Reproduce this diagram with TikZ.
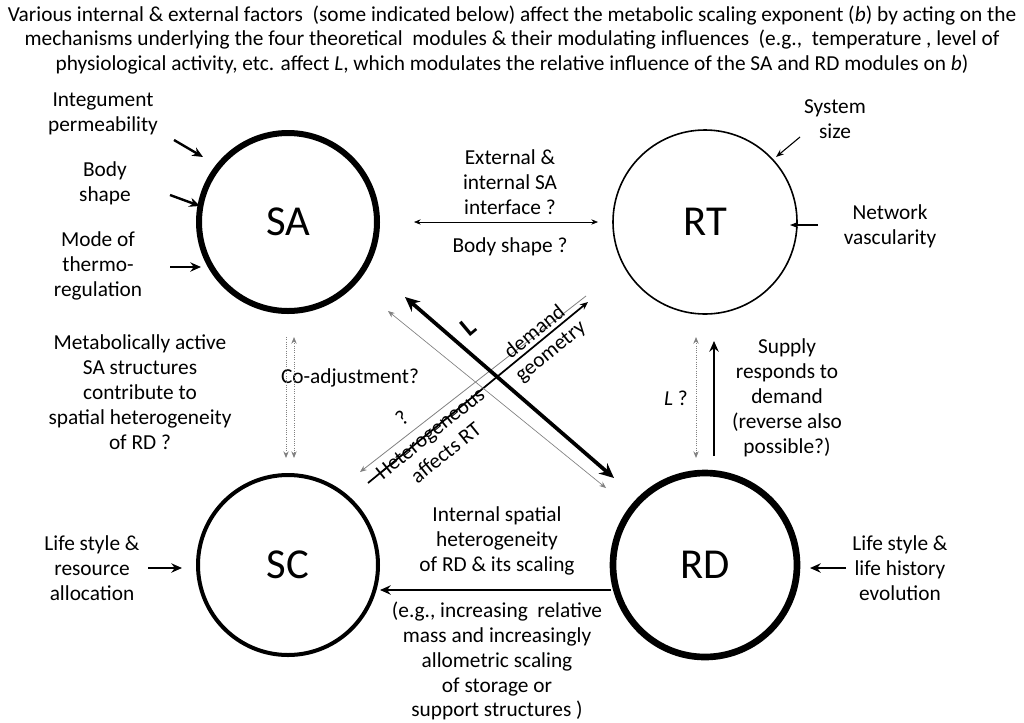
\documentclass[tikz,border=0pt]{standalone}
\usepackage{fontspec}
\setmainfont{Carlito}
\usetikzlibrary{arrows.meta}
\begin{document}
\begin{tikzpicture}[x=0.75pt,y=-0.75pt,
  t/.style={align=center,font=\fontsize{16}{18.7}\selectfont,inner sep=1pt},
  big/.style={font=\fontsize{32}{34}\selectfont},
  ex/.style={-{Stealth[length=8pt,width=7pt]},line width=1.8pt},
  thin/.style={{Stealth[length=5pt,width=4pt]}-{Stealth[length=5pt,width=4pt]},line width=0.5pt},
  dot/.style={densely dotted,gray,line width=0.7pt}]
\useasboundingbox (0,0) rectangle (1024,722);
\node[t] (title) at (512,40) {Various internal \& external factors\ \ (some indicated below) affect\ the metabolic scaling exponent (\textit{b}) by acting on the\\ mechanisms underlying the four theoretical\ \ modules \& their modulating influences\ \ (e.g.,\ \ temperature , level of\\ physiological activity, etc. affect \textit{L}, which modulates the relative influence of the SA and RD modules on \textit{b})};
\draw[line width=4.5pt] (288,222) circle (89);
\draw[line width=1.2pt] (705,222) circle (92);
\draw[line width=3pt] (288,565) circle (90);
\draw[line width=5pt] (705,565) circle (92);
\node[big] (sa) at (288,222) {SA};
\node[big] (rt) at (705,222) {RT};
\node[big] (sc) at (288,565) {SC};
\node[big] (rd) at (705,565) {RD};
% left factors
\node[t] (ip) at (103,114) {Integument\\permeability};
\coordinate (a1) at (174,140); \coordinate (b1) at (203,157);
\draw[ex] (a1) -- (b1);
\node[t] (bs) at (105,183) {Body\\shape};
\coordinate (a2) at (170,195); \coordinate (b2) at (200,206);
\draw[ex] (a2) -- (b2);
\node[t] (mt) at (98,266) {Mode of\\thermo-\\regulation};
\coordinate (a3) at (170,267); \coordinate (b3) at (201,267);
\draw[ex] (a3) -- (b3);
% right top
\node[t] (ss) at (835,119) {System\\size};
\coordinate (a4) at (800,137); \coordinate (b4) at (776,157);
\draw[-{Stealth[length=6pt]},line width=0.8pt] (a4) -- (b4);
\node[t] (nv) at (890,226) {Network\\vascularity};
\coordinate (a5) at (818,225); \coordinate (b5) at (790,225);
\draw[-{Stealth[length=6pt]},line width=0.8pt] (a5) -- (b5);
% SA-RT
\node[t] (ext) at (510,182) {External \&\\internal SA\\interface ?};
\node[t] (bs2) at (510,247) {Body shape\ ?};
\coordinate (c1) at (414,222); \coordinate (c2) at (598,222);
\draw[thin] (c1) -- (c2);
% SA-SC
\node[t] (met) at (140,392) {Metabolically active\\SA structures\\contribute\ to\\spatial heterogeneity\\of RD ?};
\node[t] (co) at (350,378) {Co-adjustment?};
\coordinate (d1) at (286,337); \coordinate (d2) at (286,458);
\draw[dot,-{Stealth[length=5pt,width=4pt]}] (d1) -- (d2);
\coordinate (d3) at (294,337); \coordinate (d4) at (294,458);
\draw[dot,{Stealth[length=5pt,width=4pt]}-{Stealth[length=5pt,width=4pt]}] (d3) -- (d4);
% diagonals
\coordinate (e1) at (586,296); \coordinate (e2) at (360,472);
\draw[gray,line width=0.6pt,-{Stealth[length=5pt,width=4pt]}] (e1) -- (e2);
\coordinate (f1) at (368,483); \coordinate (f2) at (588,302);
\draw[line width=1.3pt,-{Stealth[length=6pt,width=5pt]}] (f1) -- (f2);
\coordinate (g1) at (388,311); \coordinate (g2) at (606,488);
\draw[gray,line width=0.5pt,{Stealth[length=5pt,width=4pt]}-{Stealth[length=5pt,width=4pt]}] (g1) -- (g2);
\coordinate (h1) at (405,297); \coordinate (h2) at (614,478);
\draw[line width=2.8pt,{Stealth[length=11pt,width=10pt]}-{Stealth[length=11pt,width=10pt]}] (h1) -- (h2);
\node[t,rotate=40,font=\fontsize{20}{22}\selectfont\bfseries] (L) at (468,327) {L};
\node[t,rotate=39] (q) at (402,418) {?};
\node[t,rotate=39] (het) at (438,443) {Heterogeneous\\affects RT};
\node[t,rotate=39] (dem) at (543,342) {demand\\geometry};
% RT-RD
\node[t] (lq) at (676,398) {\textit{L} ?};
\coordinate (i1) at (696,337); \coordinate (i2) at (696,458);
\draw[dot,{Stealth[length=5pt,width=4pt]}-{Stealth[length=5pt,width=4pt]}] (i1) -- (i2);
\coordinate (j1) at (714,456); \coordinate (j2) at (714,341);
\draw[line width=1.8pt,-{Stealth[length=8pt,width=7pt]}] (j1) -- (j2);
\node[t] (sup) at (787,398) {Supply\\responds to\\demand\\(reverse\ also\\possible?)};
% bottom
\node[t] (ls1) at (92,568) {Life style \&\\resource\\allocation};
\coordinate (k1) at (148,568); \coordinate (k2) at (182,568);
\draw[ex] (k1) -- (k2);
\node[t] (ls2) at (900,568) {Life style \&\\life history\\evolution};
\coordinate (k3) at (846,568); \coordinate (k4) at (810,568);
\draw[ex] (k3) -- (k4);
\node[t] (int) at (497,541) {Internal spatial\\heterogeneity\\of RD \& its scaling};
\coordinate (m1) at (611,590); \coordinate (m2) at (380,590);
\draw[ex] (m1) -- (m2);
\node[t] (eg) at (497,661) {(e.g., increasing\ \ relative\\mass\ and increasingly\\allometric scaling\\of storage or\\support\ structures )};
\end{tikzpicture}
\end{document}
